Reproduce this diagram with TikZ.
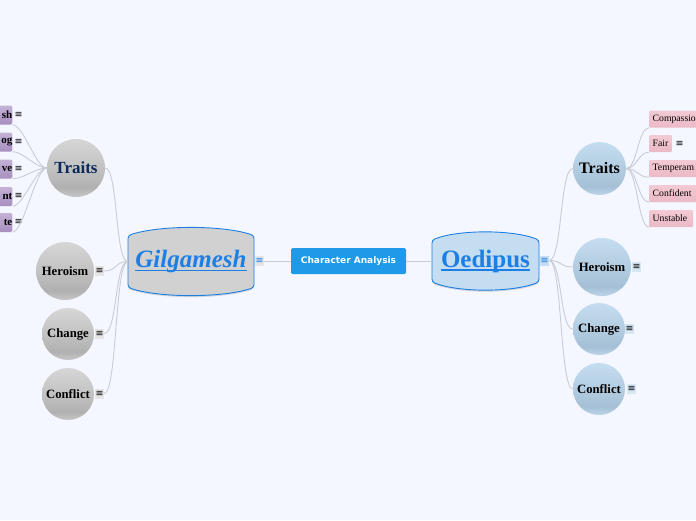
\documentclass[tikz,border=0pt]{standalone}
\usepackage{fontspec}
\usepackage{xcolor}
\usepackage{tikz}
\usetikzlibrary{
  positioning,
  shadows
}
\setmainfont{Liberation Serif}
\newfontfamily\labelfont{DejaVu Sans}
\definecolor{pagebg}{HTML}{F4F7FF}
\definecolor{linkgrey}{HTML}{C9CCD2}
\definecolor{mapblue}{HTML}{1C7FE5}
\definecolor{rootblue}{HTML}{1E9AE8}
\definecolor{navy}{HTML}{0B2A5B}
\definecolor{purpleA}{HTML}{C4B2D6}
\definecolor{purpleB}{HTML}{A78FBE}
\definecolor{pinkA}{HTML}{F3CAD4}
\definecolor{pinkB}{HTML}{EBB9C6}
\pgfdeclareverticalshading{greyball}{100bp}{color(0bp)=(black!24); color(25bp)=(black!22); color(33bp)=(black!31); color(50bp)=(black!24); color(75bp)=(black!16); color(100bp)=(black!16)}
\definecolor{blueA}{HTML}{C5DDF0}
\definecolor{blueB}{HTML}{A5C0D6}
\definecolor{blueC}{HTML}{BCD4E7}
\pgfdeclareverticalshading{blueball}{100bp}{color(0bp)=(blueC); color(25bp)=(blueC); color(33bp)=(blueB); color(75bp)=(blueA); color(100bp)=(blueA)}
% barrel shaped main topic: name, centre x, centre y, half width, half height, fill, text
\newcommand{\barrel}[7]{
  \begin{scope}[shift={(#2,#3)}]
    \draw[mapblue,line width=0.9pt,fill=#6,rounded corners=3pt,drop shadow={shadow xshift=0pt,shadow yshift=-1.5pt,opacity=0.3}]
      (-#4,{-#5+8}) .. controls ({-#4/2},{-#5-2.5}) and ({#4/2},{-#5-2.5}) .. (#4,{-#5+8})
      -- (#4,{#5-8}) .. controls ({#4/2},{#5+2.5}) and ({-#4/2},{#5+2.5}) .. (-#4,{#5-8}) -- cycle;
  \end{scope}
  \node[inner sep=0pt,minimum width=2*#4 pt,minimum height=2*#5 pt] (#1) at (#2,#3) {#7};
}
\newcommand{\menuglyph}{\labelfont ≡}
\newsavebox{\titlebox}
\newcommand{\thickunder}[1]{\sbox{\titlebox}{#1}\rlap{\rule[-3.5pt]{\wd\titlebox}{1.5pt}}\usebox{\titlebox}}
\begin{document}
\begin{tikzpicture}[x=1pt,y=-1pt,
    link/.style={draw=linkgrey,line width=0.9pt},
    leftcurve/.style={to path={.. controls +(-#1,0) and +(#1,0) .. (\tikztotarget)}},
    rightcurve/.style={to path={.. controls +(#1,0) and +(-#1,0) .. (\tikztotarget)}},
    bubble/.style={circle,inner sep=0pt,minimum size=#1,font=\bfseries\fontsize{12.7}{14}\selectfont},
    greybubble/.style={bubble=#1,shading=greyball},
    bluebubble/.style={bubble=#1,shading=blueball},
    menu/.style={inner sep=0pt,minimum width=9pt,minimum height=10pt,font=\fontsize{9.5}{10}\selectfont},
    purpleleaf/.style={anchor=east,inner sep=0pt,minimum height=19pt,text width=40pt,align=right,rounded corners=1.5pt,
      top color=purpleA,bottom color=purpleB,font=\bfseries\fontsize{11}{11}\selectfont},
    pinkleaf/.style={anchor=west,inner sep=3.5pt,minimum height=17pt,rounded corners=1pt,
      top color=pinkA,bottom color=pinkB,font=\fontsize{9.7}{11}\selectfont}]
  \useasboundingbox[fill=pagebg] (0,0) rectangle (696,520);

  % centre
  \node[fill=rootblue,rounded corners=1.5pt,minimum width=115pt,minimum height=26pt,inner sep=0pt,text=white,
    font=\labelfont\bfseries\fontsize{9}{10}\selectfont] (root) at (348.5,261) {Character Analysis};
  \barrel{gilgamesh}{191}{261.5}{63}{34}{black!18}{\raisebox{-2pt}{\textcolor{mapblue}{\fontsize{25}{28}\selectfont\bfseries\itshape\thickunder{Gilgamesh}}}}
  \barrel{oedipus}{485.5}{261}{53.5}{29}{blueA}{\raisebox{-2pt}{\textcolor{mapblue}{\fontsize{25}{28}\selectfont\bfseries\thickunder{Oedipus}}}}
  \node[menu,fill=black!10,text=mapblue] (gilgamenu) at (259.5,261) {\menuglyph};
  \node[menu,fill=blueA,text=mapblue] (oedimenu) at (544.5,260.5) {\menuglyph};

  % left side
  \node[greybubble=58pt,text=navy,font=\bfseries\fontsize{17}{18}\selectfont] (ltraits) at (76,168) {Traits};
  \node[greybubble=58pt] (lheroism) at (65,271) {Heroism};
  \node[greybubble=52pt] (lchange) at (68,334) {Change};
  \node[greybubble=52pt] (lconflict) at (68,394) {Conflict};
  \node[menu,fill=black!10] (lheromenu) at (99.5,271) {\menuglyph};
  \node[menu,fill=black!10] (lchangemenu) at (99.5,333.5) {\menuglyph};
  \node[menu,fill=black!10] (lconfmenu) at (99.5,393.5) {\menuglyph};
  \foreach \i/\y/\txt in {1/115/sh,2/142/og,3/169/ve,4/196.5/nt,5/222.5/te} {
    \node[purpleleaf] (lleaf\i) at (12.5,\y) {\txt};
    \node[menu] (lmenu\i) at (18.5,\y-0.5) {\menuglyph};
    \draw[link] (ltraits.west) to[leftcurve=11] (lleaf\i.south east);
  }

  % right side
  \node[bluebubble=53pt,font=\bfseries\fontsize{16}{18}\selectfont] (rtraits) at (599.5,168.5) {Traits};
  \node[bluebubble=58pt] (rheroism) at (602,267) {Heroism};
  \node[bluebubble=52pt] (rchange) at (599,329) {Change};
  \node[bluebubble=52pt] (rconflict) at (599,389) {Conflict};
  \node[menu,fill=blueA!70] (rheromenu) at (636.5,266.5) {\menuglyph};
  \node[menu,fill=blueA!70] (rchangemenu) at (629.5,328.5) {\menuglyph};
  \node[menu,fill=blueA!70] (rconfmenu) at (631.5,388.5) {\menuglyph};
  \node[pinkleaf,text width=60pt] (compassion) at (649,119) {Compassio};
  \node[pinkleaf] (fair) at (649,143.5) {Fair};
  \node[pinkleaf,text width=60pt] (temperam) at (649,168.5) {Temperam};
  \node[pinkleaf,text width=43pt] (confident) at (649,193.5) {Confident};
  \node[pinkleaf,text width=37pt] (unstable) at (649,218.5) {Unstable};
  \node[menu] (fairmenu) at (679.5,143.5) {\menuglyph};
  \foreach \leaf in {compassion,fair,temperam,confident,unstable}
    \draw[link] (rtraits.east) to[rightcurve=11] (\leaf.south west);

  % connectors between main topics
  \draw[link] (root.west) -- (gilgamenu.east);
  \draw[link] (root.east) -- (oedipus.west);
  \draw[link] (gilgamesh.west) to[leftcurve=13] (ltraits.east);
  \draw[link] (gilgamesh.west) to[leftcurve=13] (lheromenu.east);
  \draw[link] (gilgamesh.west) to[leftcurve=13] (lchangemenu.east);
  \draw[link] (gilgamesh.west) to[leftcurve=13] (lconfmenu.east);
  \draw[link] (oedimenu.east) to[rightcurve=13] (rtraits.west);
  \draw[link] (oedimenu.east) to[rightcurve=13] (rheroism.west);
  \draw[link] (oedimenu.east) to[rightcurve=13] (rchange.west);
  \draw[link] (oedimenu.east) to[rightcurve=13] (rconflict.west);
\end{tikzpicture}
\end{document}
